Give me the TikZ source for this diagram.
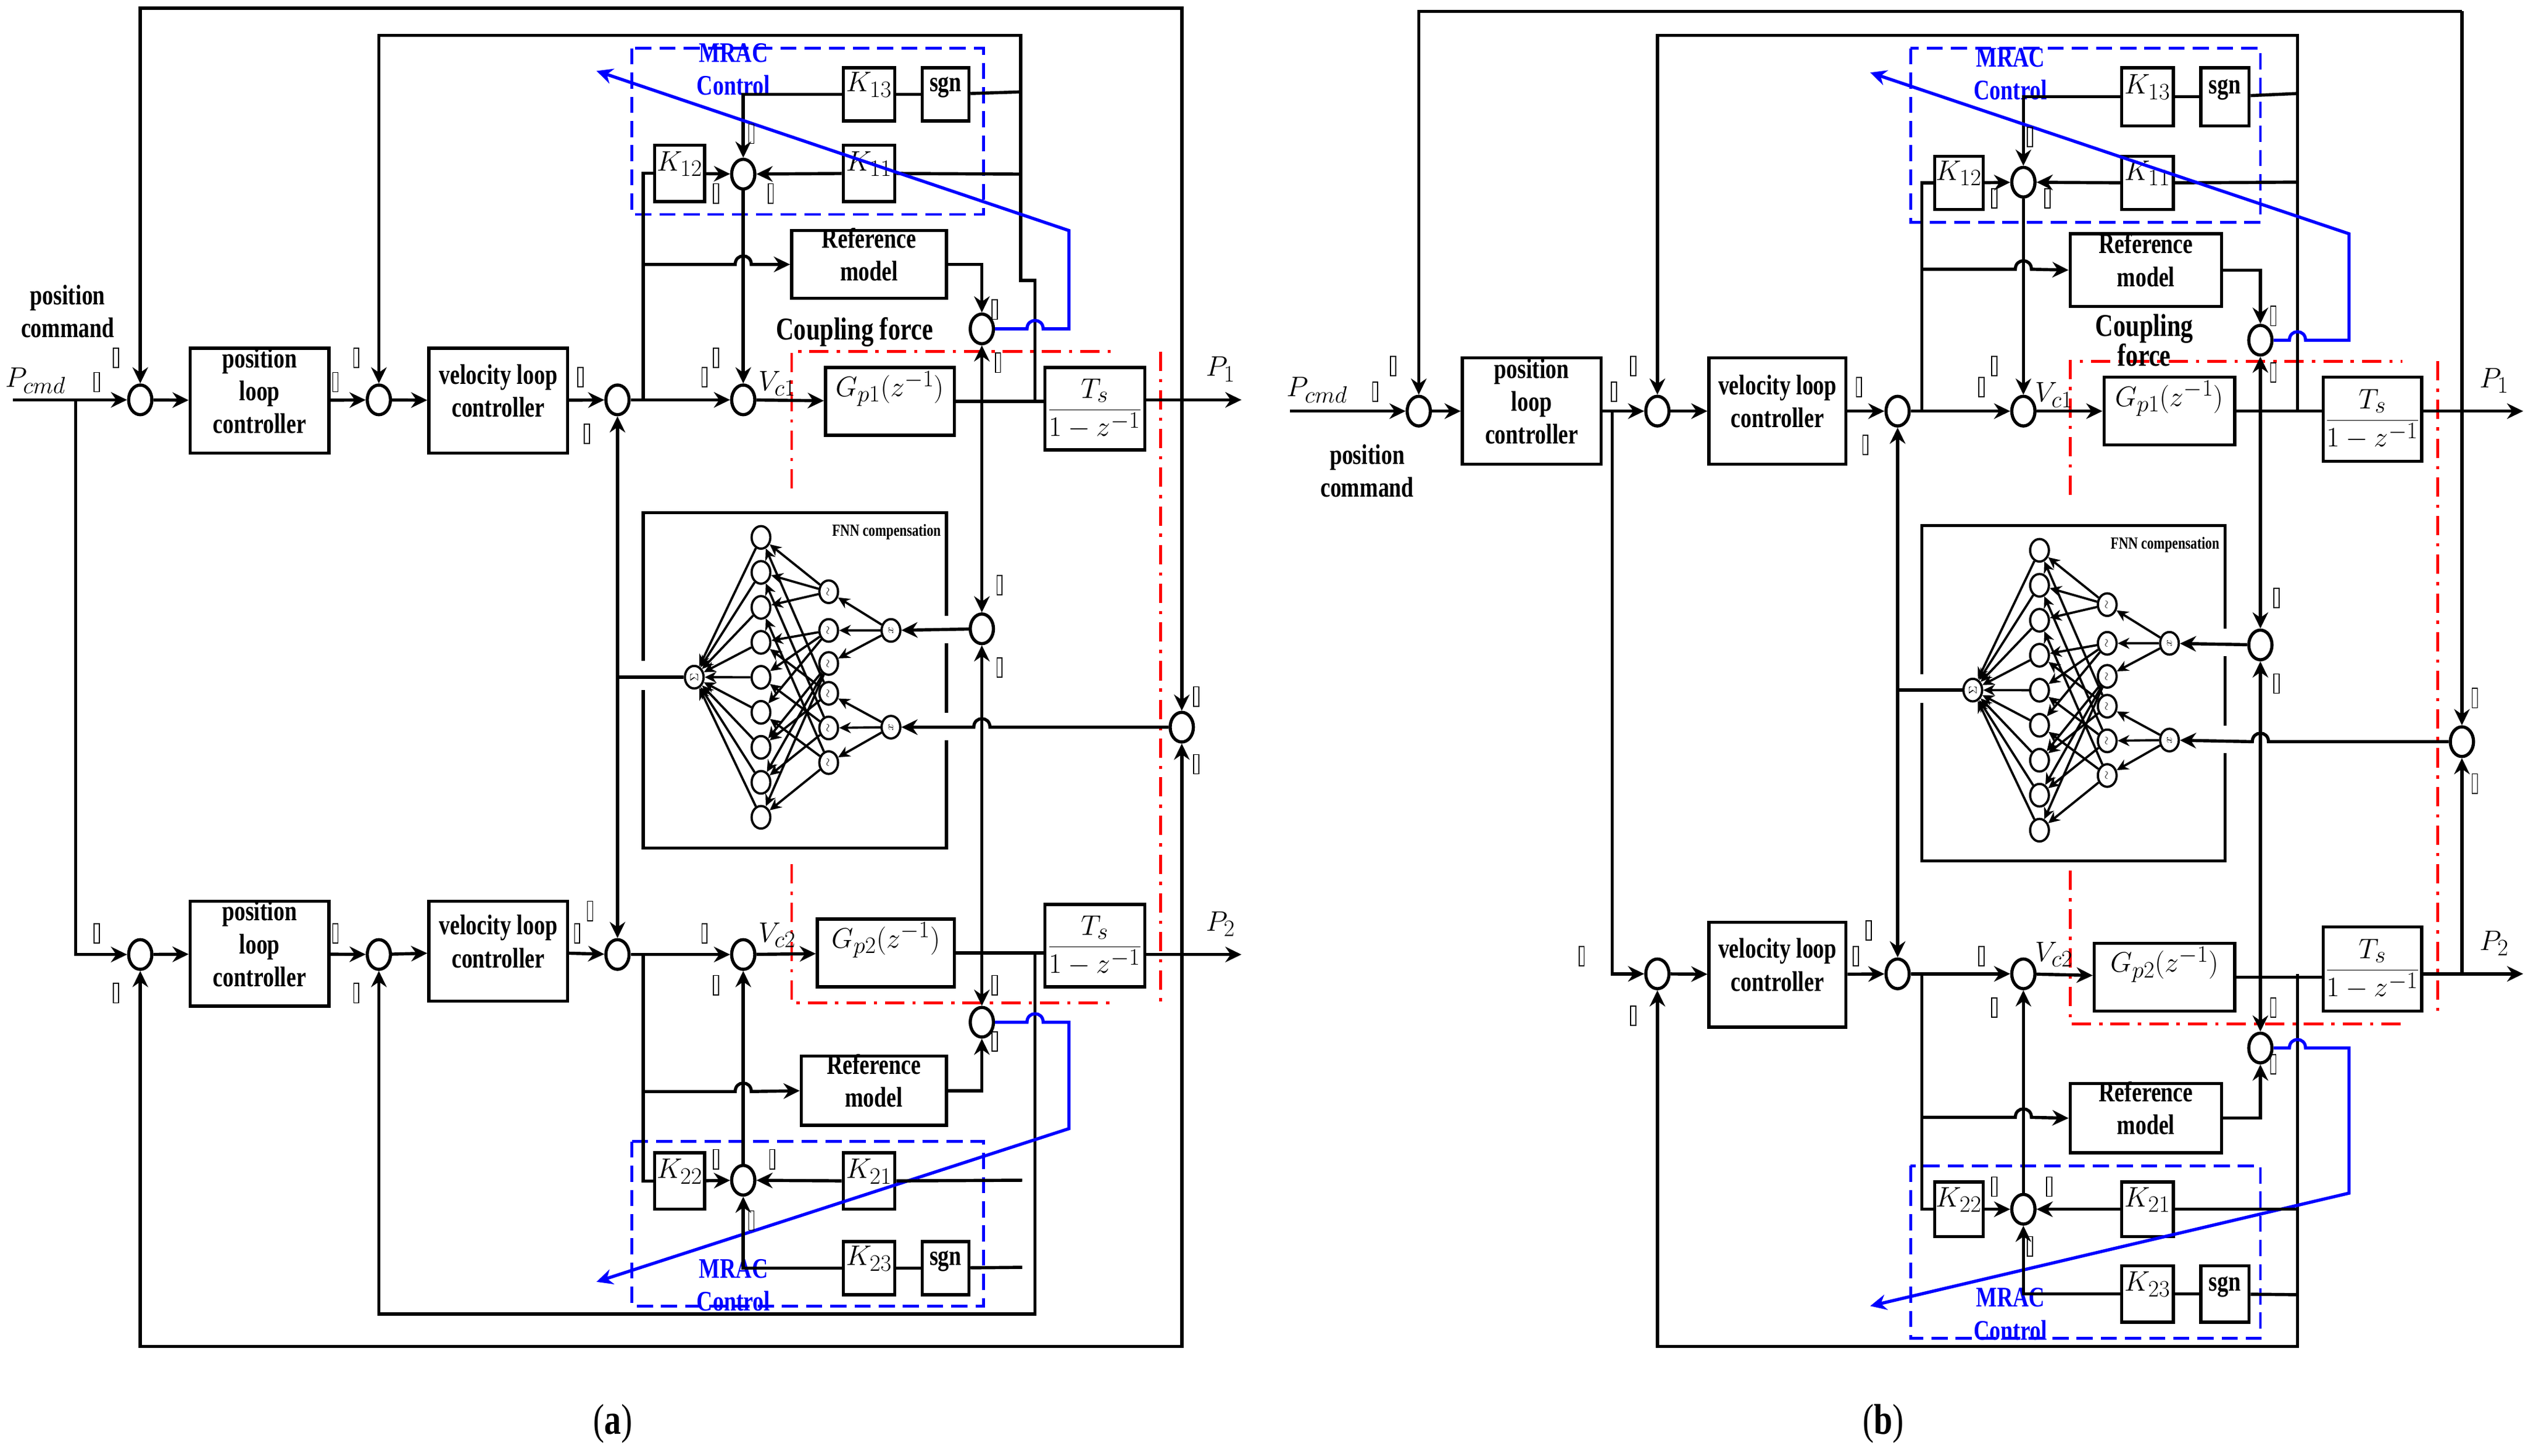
\documentclass[tikz,border=0pt]{standalone}
\usepackage{fontspec}
\setmainfont{Liberation Serif}[FakeStretch=0.78]
\usetikzlibrary{arrows.meta,shapes.geometric,fit,positioning}
\newcommand\txtf{\fontsize{25}{29}\selectfont\bfseries}
\newcommand\mathf{\fontsize{30}{34}\selectfont}
\newcommand\fracf{\fontsize{29}{32}\selectfont}
\newcommand\smallf{\fontsize{15}{17}\selectfont\bfseries}
\newcommand\tsfrac{$\displaystyle\frac{T_s}{1-z^{-1}}$}
\tikzset{
  blk/.style={draw, line width=2.8pt, inner sep=0pt, align=center, font=\txtf},
  mblk/.style={blk, font=\mathf},
  sum/.style={draw, ellipse, line width=2.8pt, minimum width=0.72cm, minimum height=0.92cm, inner sep=0pt},
  ln/.style={line width=2.8pt},
  arr/.style={-{Stealth[length=0.5cm,width=0.48cm]}},
  biarr/.style={{Stealth[length=0.5cm,width=0.48cm]}-{Stealth[length=0.5cm,width=0.48cm]}},
  fa/.style={line width=2pt, -{Stealth[length=0.36cm,width=0.34cm]}},
  neu/.style={draw, ellipse, line width=2pt, minimum width=0.58cm, minimum height=0.7cm, inner sep=0pt, font=\fontsize{10}{10}\selectfont},
  tofu/.style={draw, line width=0.9pt, minimum width=0.16cm, minimum height=0.6cm, inner sep=0pt},
  mrac/.style={blue, line width=2.5pt, dash pattern=on 0.5cm off 0.25cm},
  cpl/.style={red, line width=2.5pt, dash pattern=on 0.6cm off 0.25cm on 0.1cm off 0.25cm},
  fb/.style={blue, line width=2.8pt},
  lbl/.style={font=\txtf, align=center},
  blu/.style={font=\txtf, text=blue, align=center}
}
% FNN block: prefix, x shift, y shift
\newcommand\fnnet[3]{%
\begin{scope}[shift={(#2,#3)}]
  \draw[ln] (399,410) -- (399,318) -- (587,318) -- (587,382);
  \draw[ln] (587,399) -- (587,442);
  \draw[ln] (587,459) -- (587,526) -- (399,526) -- (399,428);
  \node[font=\smallf, anchor=east] at (586,330) {FNN compensation};
  \node[neu] (#1o) at (430.6,420) {\rotatebox{90}{$\Sigma$}};
  \foreach \i in {1,...,9}
    \node[neu] (#1r\i) at (472,{333.3+21.7*(\i-1)}) {};
  \foreach \i/\y in {1/367,2/391,3/411.5,4/430,5/451.5,6/473}
    \node[neu] (#1m\i) at (514,\y) {\rotatebox{90}{$\sim$}};
  \node[neu] (#1i1) at (552.6,391) {\rotatebox{90}{$x$}};
  \node[neu] (#1i2) at (552.6,451) {\rotatebox{90}{$x$}};
  \foreach \a in {1,2,3}
    \foreach \b in {1,2,3} {
      \pgfmathtruncatemacro\k{3*(\a-1)+\b}
      \pgfmathtruncatemacro\mb{3+\b}
      \draw[fa] (#1m\a) -- (#1r\k);
      \draw[fa] (#1m\mb) -- (#1r\k);
    }
  \foreach \k in {1,...,9} \draw[fa] (#1r\k) -- (#1o);
  \foreach \a in {1,2,3} \draw[fa] (#1i1) -- (#1m\a);
  \foreach \a in {4,5,6} \draw[fa] (#1i2) -- (#1m\a);
\end{scope}}
\begin{document}
\begin{tikzpicture}[x=0.05cm, y=-0.05cm]
\useasboundingbox (0,0) rectangle (1568,903);

%%%%%%%%%%%%%%%% (a) %%%%%%%%%%%%%%%%
% upper axis
\node[sum] (S1a) at (87,248) {};
\node[blk, fit={(118,216) (204,281)}] (plc1a) {position\\loop\\controller};
\node[sum] (S2a) at (235,248) {};
\node[blk, fit={(266,216) (352,281)}] (vlc1a) {velocity loop\\controller};
\node[sum] (S3a) at (383,248) {};
\node[sum] (S4a) at (461,248) {};
\node[mblk, fit={(512,228) (592,270)}] (gp1a) {$G_{p1}(z^{-1})$};
\node[blk, fit={(648,228) (710,279)}] (ts1a) {};
\node[font=\fracf] at (ts1a.center) {\tsfrac};
% lower axis
\node[sum] (S1b) at (87,592) {};
\node[blk, fit={(118,559) (204,624)}] (plc2a) {position\\loop\\controller};
\node[sum] (S2b) at (235,592) {};
\node[blk, fit={(266,559) (352,621)}] (vlc2a) {velocity loop\\controller};
\node[sum] (S3b) at (383,592) {};
\node[sum] (S4b) at (461,592) {};
\node[mblk, fit={(507,570) (592,612)}] (gp2a) {$G_{p2}(z^{-1})$};
\node[blk, fit={(648,561) (710,612)}] (ts2a) {};
\node[font=\fracf] at (ts2a.center) {\tsfrac};
% MRAC
\node[mblk, fit={(523,42) (555,75)}] (k13a) {$K_{13}$};
\node[blk, fit={(572,42) (601,75)}] (sgn1a) {sgn};
\node[mblk, fit={(406,90) (437,125)}] (k12a) {$K_{12}$};
\node[sum] (M1a) at (461,108) {};
\node[mblk, fit={(523,90) (555,125)}] (k11a) {$K_{11}$};
\node[blk, fit={(491,143) (587,185)}] (ref1a) {Reference\\model};
\node[sum] (E1a) at (609,204) {};
\node[sum] (C1a) at (609,390) {};
\node[sum] (Ra) at (733,451) {};
\node[sum] (E2a) at (609,634) {};
\node[blk, fit={(497,655) (587,698)}] (ref2a) {Reference\\model};
\node[mblk, fit={(406,715) (437,750)}] (k22a) {$K_{22}$};
\node[sum] (M2a) at (461,732) {};
\node[mblk, fit={(523,715) (555,750)}] (k21a) {$K_{21}$};
\node[mblk, fit={(523,770) (555,803)}] (k23a) {$K_{23}$};
\node[blk, fit={(572,770) (601,803)}] (sgn2a) {sgn};
\fnnet{Na}{0}{0}
\draw[mrac] (392,30) rectangle (610,133);
\draw[mrac] (392,708) rectangle (610,810);
\draw[cpl] (491,303) -- (491,218) -- (690,218);
\draw[cpl] (720,218) -- (720,622);
\draw[cpl] (491,536) -- (491,622) -- (690,622);
% labels
\node[lbl] at (42,193) {position\\command};
\node[font=\mathf] at (22,236) {$P_{cmd}$};
\node[font=\mathf] at (757,229) {$P_1$};
\node[font=\mathf] at (757,573) {$P_2$};
\node[font=\mathf] at (482,238) {$V_{c1}$};
\node[font=\mathf] at (482,580) {$V_{c2}$};
\node[font=\fontsize{28}{32}\selectfont\bfseries] at (530,206) {Coupling force};
\node[blu] at (455,43) {MRAC\\Control};
\node[blu] at (455,797) {MRAC\\Control};
\node[font=\fontsize{38}{42}\selectfont] at (380,883) {(\textbf{a})};
% connectors
\coordinate (in1a) at (8,248);
\coordinate (br1a) at (47,248);
\coordinate (P1a) at (770,248);
\coordinate (P2a) at (770,592);
\coordinate (j1a) at (733,248);
\coordinate (j2a) at (733,592);
\coordinate (v1a) at (642,248);
\coordinate (v2a) at (642,592);
\coordinate (tip1a) at (370,44);
\coordinate (tip2a) at (370,795);
\draw[ln,arr] (in1a) -- (S1a);
\draw[ln,arr] (br1a) |- (S1b);
\draw[ln,arr] (S1a) -- (plc1a);
\draw[ln,arr] (plc1a) -- (S2a);
\draw[ln,arr] (S2a) -- (vlc1a);
\draw[ln,arr] (vlc1a) -- (S3a);
\draw[ln,arr] (S3a) -- (S4a);
\draw[ln,arr] (S4a) -- (gp1a);
\draw[ln] (gp1a.east) -- (gp1a.east -| ts1a.west);
\draw[ln,arr] (ts1a.east |- P1a) -- (P1a);
\draw[ln,arr] (S1b) -- (plc2a);
\draw[ln,arr] (plc2a) -- (S2b);
\draw[ln,arr] (S2b) -- (vlc2a);
\draw[ln,arr] (vlc2a) -- (S3b);
\draw[ln,arr] (S3b) -- (S4b);
\draw[ln,arr] (S4b) -- (gp2a);
\draw[ln] (gp2a.east) -- (gp2a.east -| ts2a.west);
\draw[ln,arr] (ts2a.east |- P2a) -- (P2a);
\draw[ln,arr] (j1a) -- (733,5) -| (S1a);
\draw[ln,arr] (j1a) -- (Ra);
\draw[ln,arr] (j2a) -- (733,835) -| (S1b);
\draw[ln,arr] (j2a) -- (Ra);
\draw[ln,arr] (v1a) -- (642,174) -- (633,174) -- (633,22) -| (S2a);
\draw[ln,arr] (v2a) -- (642,815) -| (S2b);
\draw[ln] (633,57) -- (sgn1a);
\draw[ln] (sgn1a) -- (k13a);
\draw[ln,arr] (k13a.west) -| (M1a);
\draw[ln] (633,108) -- (k11a);
\draw[ln,arr] (k11a) -- (M1a);
\draw[ln,arr] (k12a) -- (M1a);
\draw[ln] (399,248) |- (k12a.west);
\draw[ln,arr] (M1a) -- (S4a);
\draw[ln,arr] (399,164) -- (456,164) .. controls (456,157) and (466,157) .. (466,164) -- (ref1a.west);
\draw[ln,arr] (ref1a.east) -| (E1a);
\draw[fb,arr] (E1a) -- (637,204) .. controls (637,197) and (647,197) .. (647,204) -- (663,204) -- (663,143) -- (tip1a);
\draw[ln,biarr] (E1a) -- (C1a);
\draw[ln,biarr] (C1a) -- (E2a);
\draw[ln,arr] (C1a) -- (Nai1);
\draw[ln,arr] (Ra) -- (614,451) .. controls (614,444) and (604,444) .. (604,451) -- (Nai2);
\draw[ln] (Nao) -- (383,420);
\draw[ln,biarr] (S3a) -- (S3b);
\draw[ln] (399,592) |- (k22a.west);
\draw[ln,arr] (399,677) -- (456,677) .. controls (456,670) and (466,670) .. (466,677) -- (ref2a.west);
\draw[ln,arr] (ref2a.east) -| (E2a);
\draw[fb,arr] (E2a) -- (637,634) .. controls (637,627) and (647,627) .. (647,634) -- (663,634) -- (663,700) -- (tip2a);
\draw[ln] (634,732) -- (k21a);
\draw[ln,arr] (k21a) -- (M2a);
\draw[ln,arr] (k22a) -- (M2a);
\draw[ln] (634,786) -- (sgn2a);
\draw[ln] (sgn2a) -- (k23a);
\draw[ln,arr] (k23a.west) -| (M2a);
\draw[ln,arr] (M2a) -- (S4b);
\foreach \x/\y in {72/222,60/237,221/222,208/237,360/234,364/269,444/222,437/234,
  466/83,444/120,478/120,617/192,619/225,620/363,620/414,742/432,742/474,
  60/579,72/616,208/579,221/616,366/565,358/579,437/579,444/611,617/611,617/646,
  444/719,479/719,466/757}
  \node[tofu] at (\x,\y) {};

%%%%%%%%%%%%%%%% (b) %%%%%%%%%%%%%%%%
\node[sum] (S1c) at (880,255) {};
\node[blk, fit={(907,222) (993,288)}] (plc1b) {position\\loop\\controller};
\node[sum] (S2c) at (1028,255) {};
\node[blk, fit={(1060,222) (1145,288)}] (vlc1b) {velocity loop\\controller};
\node[sum] (S3c) at (1177,255) {};
\node[sum] (S4c) at (1255,255) {};
\node[mblk, fit={(1305,234) (1386,276)}] (gp1b) {$G_{p1}(z^{-1})$};
\node[blk, fit={(1441,234) (1502,286)}] (ts1b) {};
\node[font=\fracf] at (ts1b.center) {\tsfrac};
\node[sum] (S2d) at (1028,604) {};
\node[blk, fit={(1060,572) (1145,637)}] (vlc2b) {velocity loop\\controller};
\node[sum] (S3d) at (1177,604) {};
\node[sum] (S4d) at (1255,604) {};
\node[mblk, fit={(1299,585) (1386,627)}] (gp2b) {$G_{p2}(z^{-1})$};
\node[blk, fit={(1441,575) (1502,627)}] (ts2b) {};
\node[font=\fracf] at (ts2b.center) {\tsfrac};
\node[mblk, fit={(1316,42) (1348,78)}] (k13b) {$K_{13}$};
\node[blk, fit={(1365,42) (1395,78)}] (sgn1b) {sgn};
\node[mblk, fit={(1200,97) (1230,130)}] (k12b) {$K_{12}$};
\node[sum] (M1b) at (1255,113) {};
\node[mblk, fit={(1316,97) (1348,130)}] (k11b) {$K_{11}$};
\node[blk, fit={(1284,145) (1378,190)}] (ref1b) {Reference\\model};
\node[sum] (E1b) at (1402,211) {};
\node[sum] (C1b) at (1402,400) {};
\node[sum] (Rb) at (1527,460) {};
\node[sum] (E2b) at (1402,650) {};
\node[blk, fit={(1284,672) (1378,715)}] (ref2b) {Reference\\model};
\node[mblk, fit={(1200,733) (1230,767)}] (k22b) {$K_{22}$};
\node[sum] (M2b) at (1255,750) {};
\node[mblk, fit={(1316,733) (1348,767)}] (k21b) {$K_{21}$};
\node[mblk, fit={(1316,785) (1348,820)}] (k23b) {$K_{23}$};
\node[blk, fit={(1365,785) (1395,820)}] (sgn2b) {sgn};
\fnnet{Nb}{793}{8}
\draw[mrac] (1185,30) rectangle (1402,138);
\draw[mrac] (1185,723) rectangle (1402,830);
\draw[cpl] (1284,307) -- (1284,224) -- (1490,224);
\draw[cpl] (1512,224) -- (1512,630);
\draw[cpl] (1284,540) -- (1284,635) -- (1490,635);
\node[lbl] at (848,292) {position\\command};
\node[font=\mathf] at (817,242) {$P_{cmd}$};
\node[font=\mathf] at (1547,236) {$P_1$};
\node[font=\mathf] at (1547,585) {$P_2$};
\node[font=\mathf] at (1274,245) {$V_{c1}$};
\node[font=\mathf] at (1274,592) {$V_{c2}$};
\node[font=\fontsize{28}{26}\selectfont\bfseries, align=center] at (1330,211) {Coupling\\force};
\node[blu] at (1247,46) {MRAC\\Control};
\node[blu] at (1247,815) {MRAC\\Control};
\node[font=\fontsize{38}{42}\selectfont] at (1168,883) {(\textbf{b})};
\coordinate (in1b) at (800,255);
\coordinate (br1b) at (1000,255);
\coordinate (P1b) at (1565,255);
\coordinate (P2b) at (1565,604);
\coordinate (j2b) at (1527,604);
\coordinate (v1b) at (1425,255);
\coordinate (v2b) at (1425,604);
\coordinate (tip1b) at (1160,45);
\coordinate (tip2b) at (1160,810);
\draw[ln,arr] (in1b) -- (S1c);
\draw[ln,arr] (S1c) -- (plc1b);
\draw[ln,arr] (plc1b) -- (S2c);
\draw[ln,arr] (br1b) |- (S2d);
\draw[ln,arr] (S2c) -- (vlc1b);
\draw[ln,arr] (vlc1b) -- (S3c);
\draw[ln,arr] (S3c) -- (S4c);
\draw[ln,arr] (S4c) -- (gp1b);
\draw[ln] (gp1b.east) -- (gp1b.east -| ts1b.west);
\draw[ln,arr] (ts1b.east |- P1b) -- (P1b);
\draw[ln,arr] (S2d) -- (vlc2b);
\draw[ln,arr] (vlc2b) -- (S3d);
\draw[ln,arr] (S3d) -- (S4d);
\draw[ln,arr] (S4d) -- (gp2b);
\draw[ln] (gp2b.east) -- (gp2b.east -| ts2b.west);
\draw[ln,arr] (ts2b.east |- P2b) -- (P2b);
\draw[ln,arr] (Rb) ++(0,-453) coordinate (top1b) -| (S1c);
\draw[ln,arr] (top1b) -- (Rb);
\draw[ln,arr] (j2b) -- (Rb);
\draw[ln,arr] (v1b) -- (1425,22) -| (S2c);
\draw[ln,arr] (v2b) -- (1425,835) -| (S2d);
\draw[ln] (1425,58) -- (sgn1b);
\draw[ln] (sgn1b) -- (k13b);
\draw[ln,arr] (k13b.west) -| (M1b);
\draw[ln] (1425,113) -- (k11b);
\draw[ln,arr] (k11b) -- (M1b);
\draw[ln,arr] (k12b) -- (M1b);
\draw[ln] (1192,255) |- (k12b.west);
\draw[ln,arr] (M1b) -- (S4c);
\draw[ln,arr] (1192,167) -- (1250,167) .. controls (1250,160) and (1260,160) .. (1260,167) -- (ref1b.west);
\draw[ln,arr] (ref1b.east) -| (E1b);
\draw[fb,arr] (E1b) -- (1420,211) .. controls (1420,204) and (1430,204) .. (1430,211) -- (1457,211) -- (1457,145) -- (tip1b);
\draw[ln,biarr] (E1b) -- (C1b);
\draw[ln,biarr] (C1b) -- (E2b);
\draw[ln,arr] (C1b) -- (Nbi1);
\draw[ln,arr] (Rb) -- (1407,460) .. controls (1407,453) and (1397,453) .. (1397,460) -- (Nbi2);
\draw[ln] (Nbo) -- (1177,428);
\draw[ln,biarr] (S3c) -- (S3d);
\draw[ln] (1192,604) |- (k22b.west);
\draw[ln,arr] (1192,693) -- (1250,693) .. controls (1250,686) and (1260,686) .. (1260,693) -- (ref2b.west);
\draw[ln,arr] (ref2b.east) -| (E2b);
\draw[fb,arr] (E2b) -- (1420,650) .. controls (1420,643) and (1430,643) .. (1430,650) -- (1457,650) -- (1457,740) -- (tip2b);
\draw[ln] (1425,750) -- (k21b);
\draw[ln,arr] (k21b) -- (M2b);
\draw[ln,arr] (k22b) -- (M2b);
\draw[ln] (1425,803) -- (sgn2b);
\draw[ln] (sgn2b) -- (k23b);
\draw[ln,arr] (k23b.west) -| (M2b);
\draw[ln,arr] (M2b) -- (S4d);
\foreach \x/\y in {864/227,853/243,1013/227,1001/243,1153/240,1157/276,1237/227,1229/240,
  1259/85,1237/123,1270/123,1410/196,1410/231,1412/371,1412/424,1535/433,1535/486,
  981/593,1013/630,1159/577,1151/593,1229/593,1237/625,1410/625,1410/660,
  1237/736,1271/736,1259/773}
  \node[tofu] at (\x,\y) {};
\end{tikzpicture}
\end{document}
